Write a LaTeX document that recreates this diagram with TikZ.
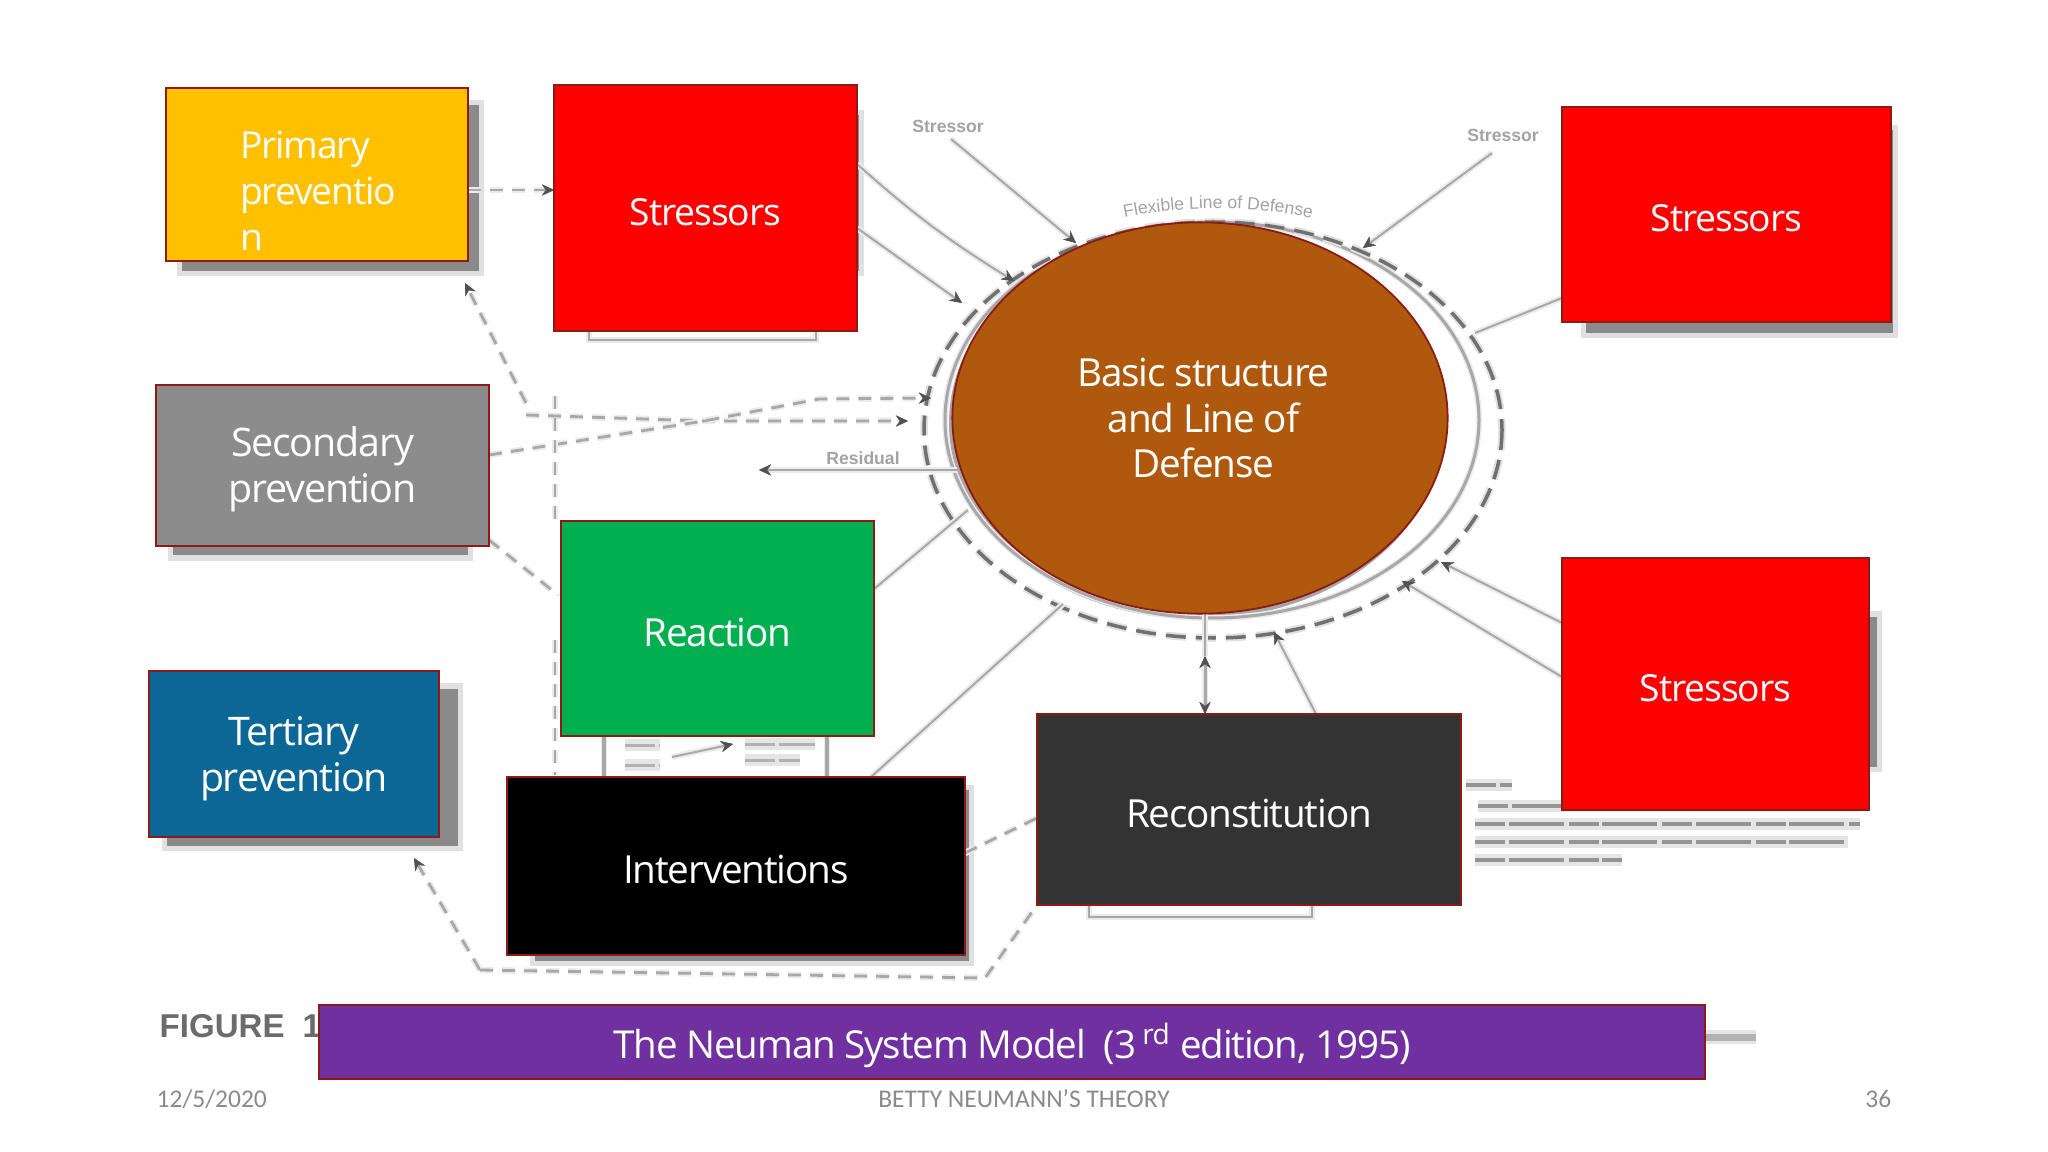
\documentclass[tikz,border=0pt]{standalone}
\usepackage{fontspec}
\setmainfont[LetterSpace=-3]{Open Sans}
\newfontfamily\footfont{Carlito}
\newfontfamily\scanfont{Liberation Sans}
\usetikzlibrary{arrows.meta,shapes.geometric,backgrounds,decorations.text}
\definecolor{edgered}{HTML}{8E1A14}
\definecolor{cAmber}{HTML}{FFC000}
\definecolor{cRed}{HTML}{FF0000}
\definecolor{cGrey}{HTML}{8C8C8C}
\definecolor{cGreen}{HTML}{00B050}
\definecolor{cBlue}{HTML}{0B6896}
\definecolor{cDark}{HTML}{333333}
\definecolor{cBrown}{HTML}{AE590E}
\definecolor{cPurple}{HTML}{7030A0}
\definecolor{cFoot}{HTML}{8A8A8A}
\newcommand{\narrowtype}{\fontsize{10.6}{13}\selectfont}
\tikzset{
  x=0.01cm,y=-0.01cm,
  slide/.style={draw=edgered,line width=0.018cm,inner sep=0pt,outer sep=0pt,text=white,align=center,
    font=\fontsize{11}{13}\selectfont},
  drop/.style={fill=black!46,draw=black!12,line width=0.05cm},
  blob/.tip={Stealth[length=0.12cm,width=0.11cm,color=black!68,fill=black!68]},
  tipdot/.style={-{blob}},
  soft/.style={draw=black!34,line width=0.02cm,preaction={draw=black!8,line width=0.06cm}},
  softdash/.style={draw=black!34,line width=0.028cm,dash pattern=on 0.13cm off 0.09cm,
    preaction={draw=black!8,line width=0.065cm,dash pattern=on 0.13cm off 0.09cm}},
  ringdash/.style={draw=black!56,line width=0.035cm,dash pattern=on 0.2cm off 0.1cm,
    preaction={draw=black!12,line width=0.075cm,dash pattern=on 0.2cm off 0.1cm}},
  softbar/.style={draw=black!42,line width=0.04cm,dash pattern=on 0.3cm off 0.035cm on 0.55cm off 0.05cm,
    preaction={draw=black!10,line width=0.11cm}},
  scan/.style={text=black!36,font=\scanfont\fontsize{5}{6}\selectfont\bfseries,inner sep=0pt},
  scanbig/.style={text=black!58,font=\scanfont\fontsize{9.4}{10}\selectfont\bfseries,inner sep=0pt},
  foot/.style={text=cFoot,font=\footfont\fontsize{7.25}{9}\selectfont,inner sep=0pt},
}
\newcommand{\slidebox}[8]{%
  \node[slide,fill=#6,minimum width={(#4-#2)*0.01cm},minimum height={(#5-#3)*0.01cm}]
    (#1) at ({(#2+#4)/2},{(#3+#5)/2}) {\raisebox{#7}[\height][\depth]{#8}};}
\begin{document}
\begin{tikzpicture}
\useasboundingbox (0,0) rectangle (2048,1152);
% ---------- slide boxes
\slidebox{primary}{166}{88}{468}{261}{cAmber}{0pt}{}
\node[slide,draw=none,fill=none,anchor=west,align=left,text=white,font=\narrowtype] (primaryText) at (240,191) {Primary\\preventio\\n};
\slidebox{stressA}{554}{85}{857}{331}{cRed}{-0.04cm}{\narrowtype Stressors}
\slidebox{secondary}{156}{385}{489}{546}{cGrey}{-0.04cm}{\parbox{3cm}{\centering\fontsize{11.2}{13}\selectfont Secondary\\prevention}}
\slidebox{reaction}{561}{521}{874}{736}{cGreen}{-0.04cm}{Reaction}
\slidebox{tertiary}{149}{671}{439}{837}{cBlue}{-0.05cm}{\parbox{2.6cm}{\centering\fontsize{11.2}{13}\selectfont Tertiary\\prevention}}
\slidebox{interv}{507}{777}{965}{955}{black}{-0.03cm}{Interventions}
\slidebox{recon}{1037}{714}{1461}{905}{cDark}{-0.04cm}{Reconstitution}
\slidebox{stressB}{1562}{107}{1891}{322}{cRed}{-0.04cm}{\narrowtype Stressors}
\slidebox{stressC}{1562}{558}{1869}{810}{cRed}{-0.04cm}{\narrowtype Stressors}
\slidebox{title}{319}{1005}{1705}{1079}{cPurple}{-0.03cm}{\fontsize{10.95}{13}\selectfont The Neuman System Model\ \ (3\,\textsuperscript{rd} edition, 1995)}
\node[slide,ellipse,fill=cBrown,minimum width=4.95cm,minimum height=3.91cm] (core) at (1200,418)
  {\hspace*{0.07cm}Basic structure\\\hspace*{0.07cm}and Line of\\\hspace*{0.07cm}Defense};
\node[foot,anchor=west] (fdate) at (156,1099) {12/5/2020};
\node[foot] (ftitle) at (1024,1099) {BETTY NEUMANN’S THEORY};
\node[foot,anchor=east] (fnum) at (1892,1099) {36};
% ---------- faded scan behind the boxes
\begin{pgfonlayer}{background}
\fill[white] (0,0) rectangle (2048,1152);
% box shadows
\fill[drop] (179,103) rectangle (481,274);
\fill[drop] (170,400) rectangle (470,558);
\fill[drop] (164,686) rectangle (460,848);
\fill[drop] (532,787) rectangle (971,963);
\fill[drop] (1583,128) rectangle (1895,336);
\fill[drop] (1600,614) rectangle (1879,769);
\fill[drop] (700,113) rectangle (861,274);
\draw[soft] (589,331) -- (589,340) -- (816,340) -- (816,331);
\draw[soft] (1089,905) -- (1089,917) -- (1312,917) -- (1312,905);
% rings
\fill[black!35] (1197,423) ellipse [x radius=248,y radius=196];
\draw[soft,line width=0.03cm] (1212,420) ellipse [x radius=267,y radius=198];
\draw[ringdash] (1213,430) ellipse [x radius=289,y radius=208];
% solid stressor lines
\coordinate (dotA) at (1014,281);
\coordinate (dotB) at (962,303);
\coordinate (dotC) at (1076,243);
\coordinate (dotD) at (1363,248);
\coordinate (dotE) at (1441,562);
\coordinate (dotF) at (1402,581);
\coordinate (dotG) at (1274,632);
\coordinate (dotH) at (759,470);
\coordinate (labIn) at (951,139);
\coordinate (labSt) at (1492,153);
\draw[soft,tipdot] (stressA.east |- 0,164) to[bend right=5] (dotA);
\draw[soft,tipdot] (stressA.east |- 0,228) -- (dotB);
\draw[soft,tipdot] (labIn) -- (dotC);
\draw[soft,tipdot] (labSt) -- (dotD);
\draw[soft] (stressB.west |- 0,298) -- (1475,333);
\draw[soft,tipdot] (stressC.west |- 0,623) -- (dotE);
\draw[soft,tipdot] (stressC.west |- 0,677) -- (dotF);
\draw[soft,tipdot] (recon.north -| 1316,0) -- (dotG);
\draw[soft] (reaction.east |- 0,589) -- (968,510);
\draw[soft] (interv.north -| 871,0) -- (1063,604);
\draw[soft,tipdot] (957,470) -- (dotH);
\draw[soft,line width=0.03cm,{blob}-{blob}] (1205,656) -- (recon.north -| 1205,0);
\draw[soft] (core.south -| 1205,0) -- (1205,656);
% dashed prevention lines
\draw[softdash,tipdot] (primary.east |- 0,190) -- (stressA.west |- 0,190);
\draw[softdash,tipdot] (526,403) -- (465,283);
\draw[softdash,tipdot] (526,415) -- (704,421) -- (908,421);
\draw[softdash,tipdot] (secondary.east |- 0,455) -- (704,421) -- (819,399) -- (931,398);
\draw[softdash] (555,396) -- (reaction.north -| 555,0);
\draw[softdash] (555,640) -- (555,775);
\draw[softdash] (secondary.east |- 0,540) -- (558,595);
\draw[softdash,tipdot] (480,970) -- (414,858);
\draw[softdash] (480,970) -- (985,978) -- (recon.west |- 0,905);
\draw[softdash] (interv.east |- 0,853) -- (recon.west |- 0,818);
% small box under Reaction
\draw[soft,line width=0.035cm] (604,736) -- (604,777);
\draw[soft,line width=0.035cm] (827,736) -- (827,777);
\draw[soft,tipdot] (672,757) -- (733,744);
\draw[softbar,draw=black!30,line width=0.03cm,preaction={line width=0.06cm}] (625,745) -- (660,745);
\draw[softbar,draw=black!30,line width=0.03cm,preaction={line width=0.06cm}] (625,765) -- (660,765);
\draw[softbar,draw=black!30,line width=0.03cm,preaction={line width=0.06cm}] (745,744) -- (815,744);
\draw[softbar,draw=black!30,line width=0.03cm,preaction={line width=0.06cm}] (745,760) -- (800,760);
% blurred note under the lower right box and the cut-off caption end
\draw[softbar] (1466,785) -- (1512,785);
\draw[softbar] (1478,806) -- (1860,806);
\draw[softbar] (1475,824) -- (1860,824);
\draw[softbar] (1475,842) -- (1848,842);
\draw[softbar] (1475,860) -- (1622,860);
\draw[draw=black!30,line width=0.07cm,preaction={draw=black!10,line width=0.14cm}] (1705,1037) -- (1756,1037);
% faded labels
\node[scan] (lblIn) at (948,126) {Stressor};
\node[scan] (lblSt) at (1503,135) {Stressor};
\node[scan] (lblRes) at (863,458) {Residual};
\node[scanbig,anchor=west] (lblFig) at (159,1026) {FIGURE\hspace{0.18cm}1};
\path[postaction={decorate,decoration={text along path,text align=center,
   text={|\scanfont\fontsize{5}{6}\selectfont\color{black!36}|Flexible Line of Defense}}}]
   (1096,224) .. controls (1170,203) and (1270,203) .. (1340,226);
\end{pgfonlayer}
\end{tikzpicture}
\end{document}
